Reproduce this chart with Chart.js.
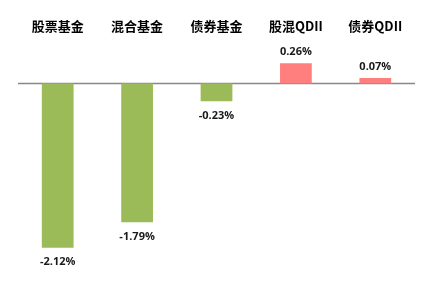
<!DOCTYPE html>
<html>
<head>
<meta charset="utf-8">
<script src="https://cdn.jsdelivr.net/npm/chart.js@4"></script>
<style>
  html, body { margin: 0; padding: 0; background: #fff; }
  #wrap { width: 444px; height: 288px; }
</style>
</head>
<body>
<div id="wrap"><canvas id="chart"></canvas></div>
<script>
const categories = ['股票基金', '混合基金', '债券基金', '股混QDII', '债券QDII'];
const returns = [-2.12, -1.79, -0.23, 0.26, 0.07];
const barColors = returns.map(v => v < 0 ? '#9BBB59' : '#FF7F7F');

// zero line + value labels
const valueLabels = {
  id: 'valueLabels',
  beforeDatasetsDraw(chart) {
    const { ctx, chartArea, scales } = chart;
    const y0 = Math.round(scales.y.getPixelForValue(0)) + 0.5;
    ctx.save();
    ctx.strokeStyle = '#888888';
    ctx.lineWidth = 1.5;
    ctx.beginPath();
    ctx.moveTo(chartArea.left, y0);
    ctx.lineTo(chartArea.right, y0);
    ctx.stroke();
    ctx.restore();
  },
  afterDatasetsDraw(chart) {
    const { ctx } = chart;
    const meta = chart.getDatasetMeta(0);
    ctx.save();
    ctx.font = 'bold 11px "Open Sans", "DejaVu Sans", sans-serif';
    ctx.fillStyle = '#1a1a1a';
    ctx.textAlign = 'center';
    meta.data.forEach((bar, i) => {
      const v = returns[i];
      const txt = v.toFixed(2) + '%';
      if (v < 0) {
        ctx.textBaseline = 'top';
        ctx.fillText(txt, bar.x, bar.y + 9);
      } else {
        ctx.textBaseline = 'bottom';
        ctx.fillText(txt, bar.x, bar.y - 6);
      }
    });
    ctx.restore();
  }
};

new Chart(document.getElementById('chart'), {
  type: 'bar',
  data: {
    labels: categories,
    datasets: [{
      data: returns,
      backgroundColor: barColors,
      borderWidth: 0,
      categoryPercentage: 1,
      barPercentage: 0.4
    }]
  },
  options: {
    responsive: true,
    maintainAspectRatio: false,
    animation: false,
    layout: { padding: { left: 18, right: 29, top: 18, bottom: 0 } },
    plugins: {
      legend: { display: false },
      tooltip: { enabled: false }
    },
    scales: {
      x: {
        position: 'top',
        grid: { display: false },
        border: { display: false },
        ticks: {
          color: '#000',
          font: { family: '"Noto Sans CJK SC", sans-serif', size: 13, weight: 'bold' },
          padding: 0
        }
      },
      y: {
        display: false,
        min: -2.64,
        max: 0.54
      }
    }
  },
  plugins: [valueLabels]
});
</script>
</body>
</html>
